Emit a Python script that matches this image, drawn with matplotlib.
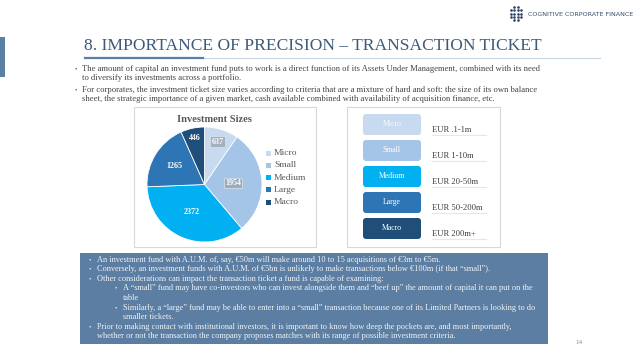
import matplotlib
matplotlib.use("Agg")
import matplotlib.pyplot as plt
import numpy as np
from matplotlib.patches import FancyBboxPatch, Rectangle

# data
categories = ["Micro", "Small", "Medium", "Large", "Macro"]
sizes = [637, 1954, 2372, 1265, 446]
colors = ["#c7daef", "#a5c5e8", "#00b0f0", "#2e75b6", "#1f4e79"]
ranges = ["EUR .1-1m", "EUR 1-10m", "EUR 20-50m", "EUR 50-200m", "EUR 200m+"]

title = "8. IMPORTANCE OF PRECISION \u2013 TRANSACTION TICKET"
top_bullets = [
    ["The amount of capital an investment fund puts to work is a direct function of its Assets Under Management, combined with its need",
     "to diversify its investments across a portfolio."],
    ["For corporates, the investment ticket size varies according to criteria that are a mixture of hard and soft: the size of its own balance",
     "sheet, the strategic importance of a given market, cash available combined with availability of acquisition finance, etc."],
]
box_lines = [
    (0, True, "An investment fund with A.U.M. of, say, \u20ac50m will make around 10 to 15 acquisitions of \u20ac3m to \u20ac5m."),
    (0, True, "Conversely, an investment funds with A.U.M. of \u20ac5bn is unlikely to make transactions below \u20ac100m (if that \u201csmall\u201d)."),
    (0, True, "Other considerations can impact the transaction ticket a fund is capable of examining:"),
    (1, True, "A \u201csmall\u201d fund may have co-investors who can invest alongside them and \u201cbeef up\u201d the amount of capital it can put on the"),
    (1, False, "table"),
    (1, True, "Similarly, a \u201clarge\u201d fund may be able to enter into a \u201csmall\u201d transaction because one of its Limited Partners is looking to do"),
    (1, False, "smaller tickets."),
    (0, True, "Prior to making contact with institutional investors, it is important to know how deep the pockets are, and most importantly,"),
    (0, False, "whether or not the transaction the company proposes matches with its range of possible investment criteria."),
]

SERIF = "Liberation Serif"
W, H = 638, 359

fig = plt.figure(figsize=(W / 100, H / 100), dpi=100)
fig.patch.set_facecolor("white")

# full-slide axes in pixel coordinates
ax = fig.add_axes([0, 0, 1, 1])
ax.set_xlim(0, W)
ax.set_ylim(H, 0)
ax.axis("off")

# left accent bar
ax.add_patch(Rectangle((0, 37), 5, 40, color="#5b80a5", lw=0))

# logo
dots = [(2, 0), (3, 0), (1, 1), (2, 1), (3, 1), (4, 1), (1, 2), (2, 2), (3, 2), (4, 2),
        (1, 3), (2, 3), (3, 3), (4, 3), (2, 4), (3, 4)]
ax.scatter([508 + 3.2 * c for c, r in dots], [7 + 3.3 * r for c, r in dots],
           s=3.5, color="#2b3f66", lw=0)
ax.text(528, 14, "COGNITIVE CORPORATE FINANCE", fontsize=4.6, color="#3a4f6a",
        family="DejaVu Sans", va="center", ha="left")

# title
ax.text(84, 46, title, fontsize=12.6, color="#3d5a7a", family=SERIF, va="center", ha="left")
ax.plot([85, 600], [58, 58], color="#c9d6e3", lw=0.8)
ax.plot([85, 203], [58, 58], color="#5b80a5", lw=1.6)

# top bullets
y = 69
for para in top_bullets:
    ax.text(75, y, "\u2022", fontsize=5, color="#555555", family=SERIF, va="center")
    for line in para:
        ax.text(82, y, line, fontsize=6.2, color="#444444", family=SERIF, va="center")
        y += 9.3
    y += 2

# boxes
ax.add_patch(Rectangle((134, 107), 182, 140, fc="white", ec="#d9d9d9", lw=0.8))
ax.add_patch(Rectangle((347, 107), 153, 140, fc="white", ec="#d9d9d9", lw=0.8))
ax.text(214, 119, "Investment Sizes", fontsize=7.6, color="#595959", family=SERIF,
        weight="bold", ha="center", va="center")

# legend
for i, (cat, col) in enumerate(zip(categories, colors)):
    ly = 153 + 12.3 * i
    ax.add_patch(Rectangle((266, ly - 2.5), 5, 5, color=col, lw=0))
    ax.text(274, ly, cat, fontsize=6.8, color="#595959", family=SERIF, va="center")

# buttons
for i, (cat, col, rng) in enumerate(zip(categories, colors, ranges)):
    by = 114 + 26 * i
    ax.add_patch(FancyBboxPatch((365, by + 2), 54, 17, boxstyle="round,pad=2,rounding_size=3",
                                fc=col, ec="none"))
    ax.text(392, by + 10.5, cat, fontsize=5.6, color="white", family=SERIF,
            ha="center", va="center", alpha=0.85 if i == 0 else 1)
    ax.text(432, by + 16, rng, fontsize=6.2, color="#404040", family=SERIF, va="center")
    ax.plot([432, 486], [by + 21, by + 21], color="#e3e8ee", lw=0.8)

# bottom box
ax.add_patch(Rectangle((80, 253), 468, 91, fc="#5b7ea2", ec="none"))
for i, (lvl, bullet, line) in enumerate(box_lines):
    ly = 259.5 + 9.6 * i
    bx = 89 if lvl == 0 else 115
    if bullet:
        ax.text(bx, ly, "\u2022", fontsize=5, color="#eef2f6", family=SERIF, va="center")
    ax.text(bx + 8, ly, line, fontsize=5.95, color="#f2f5f8", family=SERIF, va="center")

ax.text(579, 343, "14", fontsize=5, color="#8c8c8c", family=SERIF, va="center", ha="center")

# pie
pax = fig.add_axes([147 / W, 1 - 242 / H, 115 / W, 115 / H])
wedges, _ = pax.pie(sizes, colors=colors, startangle=90, counterclock=False,
                    wedgeprops=dict(edgecolor="white", linewidth=0.6))
pax.set_xlim(-1, 1)
pax.set_ylim(-1, 1)
pax.set_aspect("equal")

label_r = [0.78, 0.5, 0.53, 0.62, 0.82]
for i, (w, val, r) in enumerate(zip(wedges, sizes, label_r)):
    mid = np.deg2rad((w.theta1 + w.theta2) / 2)
    box = None
    if i < 2:
        box = dict(boxstyle="square,pad=0.15", fc="#9aa6b3", ec="#e8edf2", lw=0.5, alpha=0.8)
    pax.text(r * np.cos(mid), r * np.sin(mid), str(val), fontsize=5.8, color="white",
             weight="bold", family=SERIF, ha="center", va="center", bbox=box)

fig.savefig("out.png", dpi=100)
